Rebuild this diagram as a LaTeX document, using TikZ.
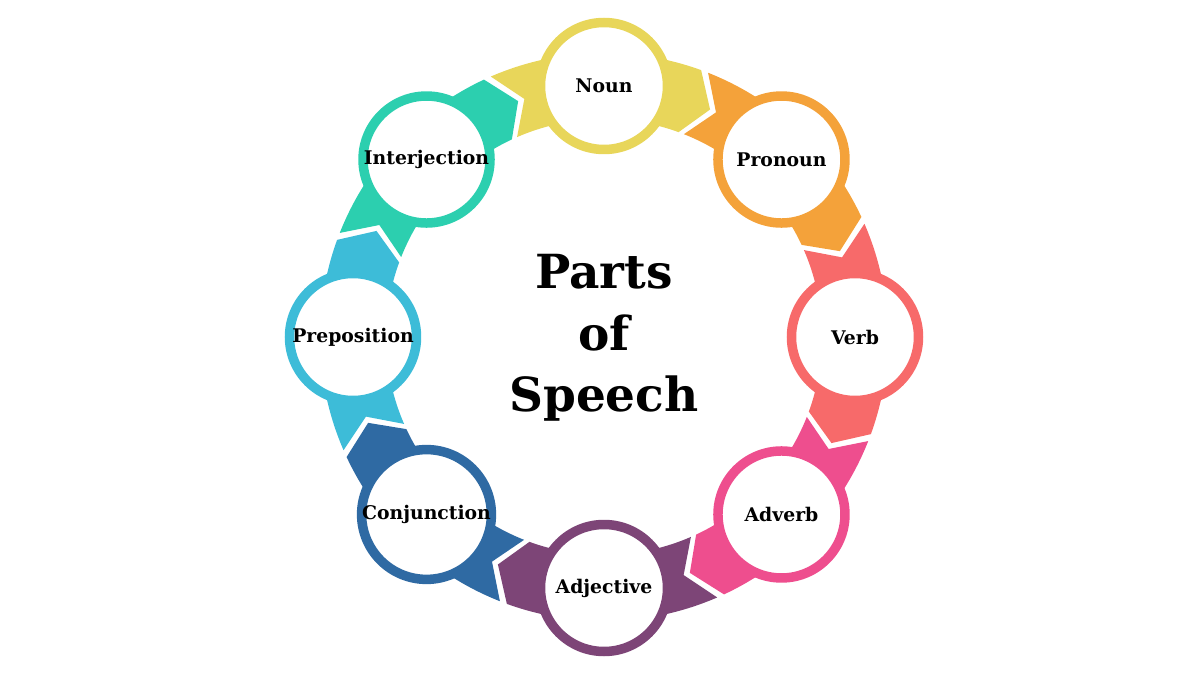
\documentclass[tikz,border=0pt]{standalone}
\usepackage{fontspec}
\setmainfont{DejaVu Serif}
\definecolor{nouncol}{HTML}{E8D65A}
\definecolor{pronouncol}{HTML}{F4A23A}
\definecolor{verbcol}{HTML}{F76A6A}
\definecolor{adverbcol}{HTML}{EE4E8E}
\definecolor{adjectivecol}{HTML}{7D4577}
\definecolor{conjunctioncol}{HTML}{2F6AA3}
\definecolor{prepositioncol}{HTML}{3DBCD8}
\definecolor{interjectioncol}{HTML}{2CCFAF}
\tikzset{
	partcircle/.style={circle,draw=#1,line width=4.75pt,fill=white,minimum size=63.5pt,inner sep=0pt,
		font=\bfseries\fontsize{9.4}{11}\selectfont},
	title/.style={align=center,font=\bfseries\fontsize{23.5}{30.75}\selectfont}
}
\begin{document}
\begin{tikzpicture}[x=0.5pt,y=0.5pt]
	\useasboundingbox (-604,-338) rectangle (596,337);
	\foreach \a/\c/\t/\n in {90/nouncol/Noun/noun,45/pronouncol/Pronoun/pronoun,0/verbcol/Verb/verb,
		-45/adverbcol/Adverb/adverb,-90/adjectivecol/Adjective/adjective,-135/conjunctioncol/Conjunction/conjunction,
		-180/prepositioncol/Preposition/preposition,-225/interjectioncol/Interjection/interjection}{
		\fill[\c] ({\a+23.5}:284) arc[start angle=\a+23.5,end angle=\a-20,radius=142pt] -- ({\a-25}:251)
			-- ({\a-20}:218) arc[start angle=\a-20,end angle=\a+23.5,radius=109pt] -- ({\a+18.5}:251) -- cycle;
		\node[partcircle=\c] (\n) at (\a:251) {\t};
	}
	\node[title] (parts) at (0,-1) {Parts\\ of\\ Speech};
\end{tikzpicture}
\end{document}
